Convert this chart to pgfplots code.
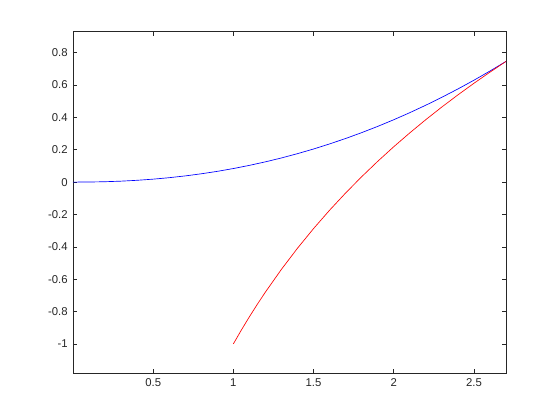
\documentclass[border=0pt]{standalone}
\usepackage{fontspec}
\setmainfont{Liberation Sans}
\usepackage{pgfplots}
\pgfplotsset{compat=1.18}
\definecolor{axgray}{rgb}{0.15,0.15,0.15}
\begin{document}
\begin{tikzpicture}
\useasboundingbox (0,0) rectangle (420pt,315pt);
\begin{axis}[
  at={(54.75pt,35.25pt)}, anchor=south west,
  scale only axis, width=324.75pt, height=256pt,
  xmin=0, xmax=2.7, ymin=-1.18, ymax=0.93,
  xtick={0.5,1,1.5,2,2.5},
  ytick={-1,-0.8,-0.6,-0.4,-0.2,0,0.2,0.4,0.6,0.8},
  tick align=inside, major tick length=3.25pt,
  axis line style={axgray, line width=0.4pt},
  every tick/.style={axgray, line width=0.4pt},
  tick label style={font=\fontsize{8.5}{10}\selectfont, text=axgray},
  /pgf/number format/assume math mode=true,
  xticklabel style={yshift=-1pt},
  yticklabel style={xshift=-0.5pt},
  scaled ticks=false,
]
\addplot[blue, line width=0.5pt] coordinates {
(0,0) (0.1,0.0005) (0.2,0.0024) (0.3,0.0059) (0.4,0.0112) (0.5,0.0183) (0.6,0.0273)
(0.7,0.0383) (0.8,0.0514) (0.9,0.0665) (1.0,0.0839) (1.1,0.1035) (1.2,0.1253) (1.3,0.1494)
(1.4,0.1759) (1.5,0.2047) (1.6,0.2360) (1.7,0.2696) (1.8,0.3058) (1.9,0.3444) (2.0,0.3855)
(2.1,0.4292) (2.2,0.4754) (2.3,0.5243) (2.4,0.5757) (2.5,0.6298) (2.6,0.6866) (2.7,0.7461)
};
\addplot[red, line width=0.5pt] coordinates {
(1.0,-1) (1.05,-0.9142) (1.1,-0.8324) (1.15,-0.7543) (1.2,-0.6795) (1.3,-0.5388)
(1.4,-0.4085) (1.5,-0.2872) (1.6,-0.1737) (1.7,-0.0672) (1.8,0.0333) (1.9,0.1284)
(2.0,0.2186) (2.1,0.3043) (2.2,0.3861) (2.3,0.4643) (2.4,0.5391) (2.5,0.6108)
(2.6,0.6798) (2.7,0.7461)
};
\end{axis}
\end{tikzpicture}
\end{document}
